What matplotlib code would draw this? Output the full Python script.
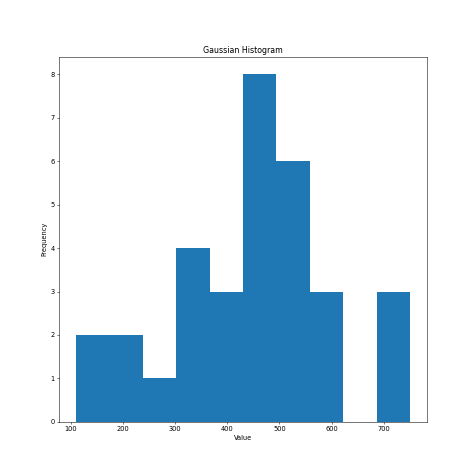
import matplotlib
matplotlib.use("Agg")
import matplotlib.pyplot as plt
import numpy as np

# Histogram data
data_min = 110.0
data_max = 750.0
counts = [2, 2, 1, 4, 3, 8, 6, 3, 0, 3]

edges = np.linspace(data_min, data_max, len(counts) + 1)
centers = (edges[:-1] + edges[1:]) / 2

fig, ax = plt.subplots(figsize=(10, 10), dpi=47.4)
ax.hist(centers, bins=edges, weights=counts)
ax.set_title("Gaussian Histogram")
ax.set_xlabel("Value")
ax.set_ylabel("Frequency")
fig.savefig("out.png", dpi=47.4)
